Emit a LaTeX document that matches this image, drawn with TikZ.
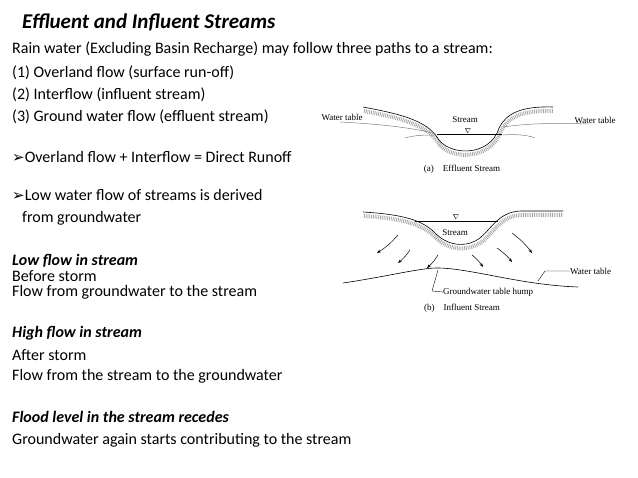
\documentclass[tikz,border=0pt]{standalone}
\usepackage{fontspec}
\setmainfont{Carlito}
\newfontfamily\serifed{Liberation Serif}
\usetikzlibrary{arrows.meta}
\begin{document}
\begin{tikzpicture}[x=1pt,y=-1pt,
  txt/.style={anchor=west,inner sep=0pt,font=\fontsize{16}{18}\selectfont},
  lab/.style={inner sep=0pt,font=\serifed\fontsize{9}{10}\selectfont},
  ground/.style={line width=0.6pt},
  hatch/.style={line width=4pt,gray!70,dash pattern=on 0.8pt off 1pt},
  wt/.style={line width=0.5pt,gray},
  flow/.style={-{Stealth[length=4pt]},line width=0.5pt}]
\useasboundingbox (0,0) rectangle (638,478);
\node[txt,font=\bfseries\itshape\fontsize{21}{24}\selectfont] (title) at (22,22) {Effluent and Influent Streams};
\node[txt] (t1) at (12,49) {Rain water (Excluding Basin Recharge) may follow three paths to a stream:};
\node[txt] (t2) at (12,73) {(1) Overland flow (surface run-off)};
\node[txt] (t3) at (12,95) {(2) Interflow (influent stream)};
\node[txt] (t4) at (12,117) {(3) Ground water flow (effluent stream)};
\node[txt] (t5) at (12,157) {\fontspec{DejaVu Sans}\fontsize{15}{17}\selectfont ➢\fontspec{Carlito}\fontsize{16}{18}\selectfont Overland flow + Interflow = Direct Runoff};
\node[txt] (t6) at (12,195) {\fontspec{DejaVu Sans}\fontsize{15}{17}\selectfont ➢\fontspec{Carlito}\fontsize{16}{18}\selectfont Low water flow of streams is derived};
\node[txt] (t7) at (22,218) {from groundwater};
\node[txt,font=\bfseries\itshape\fontsize{16}{18}\selectfont] (t8) at (12,261) {Low flow in stream};
\node[txt] (t9) at (12,276) {Before storm};
\node[txt] (t10) at (12,292) {Flow from groundwater to the stream};
\node[txt,font=\bfseries\itshape\fontsize{16}{18}\selectfont] (t11) at (12,333) {High flow in stream};
\node[txt] (t12) at (12,355) {After storm};
\node[txt] (t13) at (12,376) {Flow from the stream to the groundwater};
\node[txt,font=\bfseries\itshape\fontsize{16}{18}\selectfont] (t14) at (12,417) {Flood level in the stream recedes};
\node[txt] (t15) at (12,440) {Groundwater again starts contributing to the stream};
% (a) effluent
\draw[hatch] (364,111) .. controls (400,118) and (425,124) .. (437,141) .. controls (447,160) and (490,162) .. (501,131) .. controls (508,118) and (520,110) .. (553,111);
\draw[ground] (363,107) .. controls (400,114) and (425,120) .. (437,137) .. controls (447,156) and (490,158) .. (499,128) .. controls (506,114) and (520,106) .. (553,107);
\draw[wt] (340,122) .. controls (380,124) and (415,128) .. (436,134);
\draw[wt] (405,138) .. controls (415,135) and (425,135) .. (436,135);
\draw[wt] (503,127) .. controls (530,123) and (560,123) .. (588,124);
\draw[wt] (503,135) .. controls (515,134) and (528,135) .. (535,138);
\draw[line width=0.5pt] (437,134) -- (502,134);
\node[lab] (sa) at (465,120) {Stream};
\node[lab] at (468,131) {\scriptsize$\nabla$};
\node[lab] (wa1) at (342,117) {Water table};
\node[lab] (wa2) at (595,120) {Water table};
\node[lab] (ca) at (462,169) {(a)\quad Effluent Stream};
% (b) influent
\draw[hatch] (364,216) .. controls (395,218) and (420,222) .. (434,236) .. controls (450,253) and (470,250) .. (482,242) .. controls (496,230) and (502,214) .. (525,215) -- (563,215);
\draw[ground] (363,212) .. controls (395,214) and (420,218) .. (434,232) .. controls (450,249) and (470,246) .. (480,238) .. controls (494,226) and (500,210) .. (525,211) -- (563,211);
\draw[line width=0.5pt] (415,221) -- (498,221);
\node[lab] at (456,217) {\scriptsize$\nabla$};
\node[lab] (sb) at (455,233) {Stream};
\draw[flow] (398,235) to[bend left=8] (377,253);
\draw[flow] (410,250) to[bend left=8] (398,263);
\draw[flow] (438,255) to[bend left=8] (427,268);
\draw[flow] (472,255) to[bend left=8] (483,267);
\draw[flow] (497,248) to[bend left=8] (512,262);
\draw[flow] (512,233) to[bend left=8] (532,253);
\draw[line width=0.6pt] (343,283) .. controls (390,276) and (420,268) .. (437,268) .. controls (470,268) and (520,285) .. (578,287);
\node[lab,anchor=west] (wb) at (570,271) {Water table};
\coordinate (wbp) at (538,281);
\draw[line width=0.4pt] (wbp) -- (545,271) -- (wb.west);
\node[lab,anchor=west] (hb) at (443,292) {Groundwater table hump};
\coordinate (hbp) at (438,270);
\draw[line width=0.4pt] (hbp) -- (432,291) -- (hb.west);
\node[lab] (cb) at (462,308) {(b)\quad Influent Stream};
\end{tikzpicture}
\end{document}
